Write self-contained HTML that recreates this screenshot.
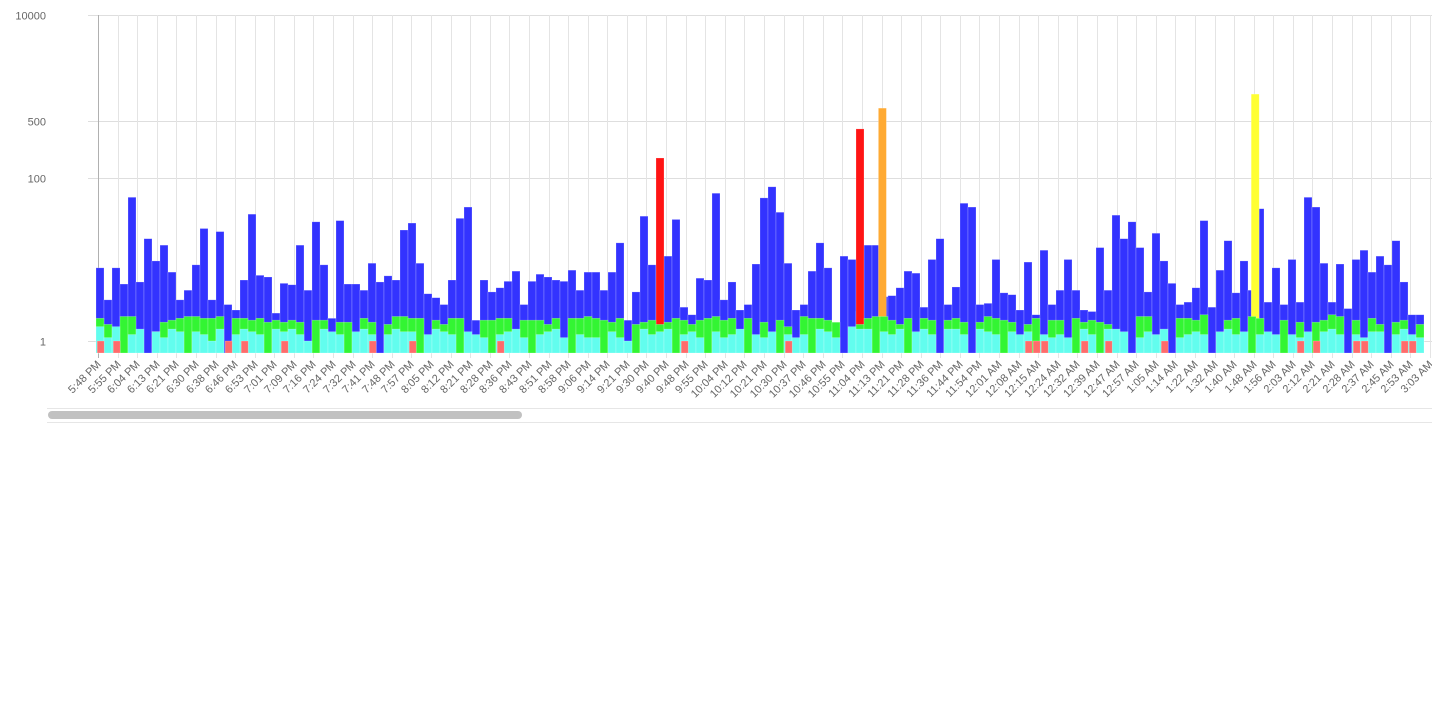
<!DOCTYPE html>
<html><head><meta charset="utf-8">
<style>
html,body{margin:0;padding:0;background:#fff;width:1440px;height:727px;overflow:hidden}
svg text{font-family:"Liberation Sans",sans-serif;font-size:11px;fill:#666}
</style></head>
<body>
<svg id="chart" width="1440" height="727" xmlns="http://www.w3.org/2000/svg">
  <defs><clipPath id="clip"><rect x="0" y="0" width="1432" height="405"/></clipPath></defs>
  <g id="grid"></g>
  <g id="yaxis"></g>
  <g id="bars" clip-path="url(#clip)"></g>
  <g id="xaxis" clip-path="url(#clip)"></g>
  <g>
    <line x1="47" y1="408.5" x2="1432" y2="408.5" stroke="#e6e6e6"/>
    <line x1="47" y1="422.5" x2="1432" y2="422.5" stroke="#e6e6e6"/>
    <rect x="48" y="411" width="474" height="8" rx="4" fill="#c1c1c1"/>
  </g>
</svg>
<script>
const yTicks = [10000, 500, 100, 1];
const xLabels = ["5:48 PM","5:55 PM","6:04 PM","6:13 PM","6:21 PM","6:30 PM","6:38 PM","6:46 PM","6:53 PM","7:01 PM","7:09 PM","7:16 PM","7:24 PM","7:32 PM","7:41 PM","7:48 PM","7:57 PM","8:05 PM","8:12 PM","8:21 PM","8:28 PM","8:36 PM","8:43 PM","8:51 PM","8:58 PM","9:06 PM","9:14 PM","9:21 PM","9:30 PM","9:40 PM","9:48 PM","9:55 PM","10:04 PM","10:12 PM","10:21 PM","10:30 PM","10:37 PM","10:46 PM","10:55 PM","11:04 PM","11:13 PM","11:21 PM","11:28 PM","11:36 PM","11:44 PM","11:54 PM","12:01 AM","12:08 AM","12:15 AM","12:24 AM","12:32 AM","12:39 AM","12:47 AM","12:57 AM","1:05 AM","1:14 AM","1:22 AM","1:32 AM","1:40 AM","1:48 AM","1:56 AM","2:03 AM","2:12 AM","2:21 AM","2:28 AM","2:37 AM","2:45 AM","2:53 AM","3:03 AM"];
const blueValues = [0,7.9,3.2,7.9,5.0,58,5.3,18,9.6,15,7.0,3.2,4.2,8.6,24,3.2,22,2.8,2.4,5.6,36,6.4,6.1,2.2,5.1,4.9,15,4.2,29,8.6,1.9,30,5.0,5.0,4.2,9.0,5.3,6.3,5.6,23,28,9.0,3.8,3.4,2.8,5.6,32,44,1.8,5.6,4.0,4.5,5.4,7.2,2.8,5.4,6.6,6.1,5.6,5.4,7.4,4.2,7.0,7.0,4.2,7.0,16,1.8,4.0,34,8.6,21,11,31,2.6,2.1,5.9,5.6,65,3.2,5.3,2.4,2.8,8.8,57,78,38,9.0,2.4,2.8,7.2,16,7.9,0.8,11,10,2.3,15,15,3.5,3.6,4.5,7.2,6.8,2.6,10,18,2.8,4.6,49,44,2.8,2.9,10,3.9,3.7,2.4,9.3,2.1,13,2.8,4.2,10,4.2,2.4,2.3,14,4.2,35,18,29,14,4.0,21,9.6,5.1,2.8,3.0,4.5,30,2.6,7.4,17,3.9,9.6,4.2,42,3.0,7.9,2.8,10,3.0,58,44,9.0,3.0,8.8,2.5,10,13,7.0,11,8.6,17,5.3,2.1,2.1];
const greenValues = [0,1.9,1.6,0,2.0,2.0,0,0,1.3,1.7,1.8,1.9,2.0,2.0,1.9,1.9,2.0,0,1.9,1.9,1.8,1.9,1.7,1.8,1.7,1.8,1.7,0,1.8,1.8,0,1.7,1.7,0,1.9,1.7,0,1.6,2.0,2.0,1.9,1.9,0,1.8,1.6,1.9,1.9,0,0,1.8,1.8,1.9,1.9,0,1.8,1.8,1.8,1.6,1.9,0,1.9,1.9,2.0,1.9,1.8,1.7,1.9,0,1.6,1.7,1.8,1.6,1.7,1.9,1.8,1.6,1.8,1.9,2.0,1.8,1.9,0,1.9,0,1.7,0,1.8,1.5,0,2.0,1.9,1.9,1.8,1.7,0,0,1.6,1.9,2.0,2.0,1.8,1.6,1.9,0,1.9,1.8,0,1.8,1.9,1.7,0,1.7,2.0,1.9,1.8,1.7,0,1.6,1.9,0,1.8,1.8,0,1.9,1.7,1.8,1.7,1.6,0,0,0,2.0,2.0,0,0,0,1.9,1.9,1.8,2.1,0,0,1.8,1.9,0,2.0,1.9,0,0,1.8,0,1.7,0,1.7,1.8,2.1,2.0,0,1.8,0,1.9,1.6,0,1.7,1.8,0,1.6,0,0];
const cyanValues = [0,1.5,1.1,1.5,0,1.2,1.4,0,1.3,1.1,1.4,1.3,0,1.3,1.2,1.0,1.4,0,1.2,1.4,1.3,1.2,0,1.4,1.3,1.4,1.2,1.0,0,1.4,1.3,1.2,0,1.3,1.4,1.2,0,1.2,1.4,1.3,1.3,0,1.2,1.4,1.3,1.2,0,1.3,1.2,1.1,0,1.2,1.3,1.4,1.1,0,1.2,1.3,1.4,1.1,0,1.2,1.1,1.1,0,1.3,1.1,1.0,0,1.4,1.2,1.3,1.4,0,1.2,1.3,1.1,0,1.3,1.1,1.2,1.4,0,1.2,1.1,1.3,0,1.2,1.1,1.2,0,1.4,1.3,1.1,0,1.5,1.4,1.4,0,1.3,1.2,1.4,0,1.3,1.4,1.2,0,1.4,1.4,1.2,0,1.4,1.3,1.2,0,1.3,1.2,1.3,0,1.2,1.1,1.2,1.1,0,1.4,1.2,0,1.4,1.4,1.3,0,1.1,1.3,1.2,1.4,0,1.1,1.2,1.3,1.2,0,1.3,1.4,1.2,1.3,0,1.2,1.3,1.2,0,1.2,1.1,1.3,0,1.3,1.4,1.2,0,1.2,1.1,1.3,1.3,0,1.2,1.4,1.2,1.1];
const salmonSlots = [1,3,17,19,24,35,40,51,74,87,117,118,119,124,127,134,151,153,158,159,164,165];
const salmonValue = 1;
const spikeSlots = [71, 96, 98.8, 145.4];
const spikeValues = [176, 400, 720, 1070];
const spikeColors = ["#ff1414", "#ff1414", "#ffaa33", "#ffff33"];

const NS = "http://www.w3.org/2000/svg";
const plotL = 88, plotR = 1432, baseY = 353, slotW = 8;
function yScale(v){ return 341 - Math.log10(v) * 81.5; }
function xScale(i){ return plotL + i * slotW; }
function labelX(i){ return 98 + i * (1332 / 68); }
function mk(tag, attrs, parent){ const e = document.createElementNS(NS, tag); for (const k in attrs) e.setAttribute(k, attrs[k]); parent.appendChild(e); return e; }

const grid = document.getElementById('grid'), yaxis = document.getElementById('yaxis'), bars = document.getElementById('bars'), xaxis = document.getElementById('xaxis');
yTicks.forEach(t => {
  const y = Math.round(yScale(t)) + 0.5;
  const l = mk('line', {x1: plotL, x2: plotR, y1: y, y2: y, stroke: '#dedede'}, grid);
  
  
  const tx = mk('text', {x: 46, y: y + 4, 'text-anchor': 'end'}, yaxis);
  tx.textContent = t;
  
  
});
xLabels.forEach((lab, i) => {
  const x = Math.round(labelX(i)) + 0.5;
  const l = mk('line', {x1: x, x2: x, y1: 15, y2: baseY + 5, stroke: i === 0 ? '#b0b0b0' : '#e4e4e4'}, grid);
  
  
  const tx = mk('text', {x: x + 3, y: baseY + 12, 'text-anchor': 'end', transform: `rotate(-45 ${x + 3} ${baseY + 12})`}, xaxis);
  tx.textContent = lab;
  
  
});
function bar(i, v, color, name, w){
  if (!v) return;
  const y = yScale(v);
  const r = mk('rect', {x: xScale(i), y: y, width: w || slotW, height: Math.max(0, baseY - y), fill: color, stroke: 'rgba(255,255,255,0.35)', 'stroke-width': 0.6}, bars);
  
  
}
blueValues.forEach((v, i) => bar(i, v, '#3333ff', 'bar-blue'));
spikeSlots.forEach((s, k) => bar(s, spikeValues[k], spikeColors[k], 'bar-spike'));
greenValues.forEach((v, i) => bar(i, v, '#33f533', 'bar-green'));
cyanValues.forEach((v, i) => bar(i, v, '#62fdee', 'bar-cyan'));
salmonSlots.forEach(s => bar(s + 0.15, salmonValue, '#ff6b6b', 'bar-salmon', 7));
</script>
</body></html>
